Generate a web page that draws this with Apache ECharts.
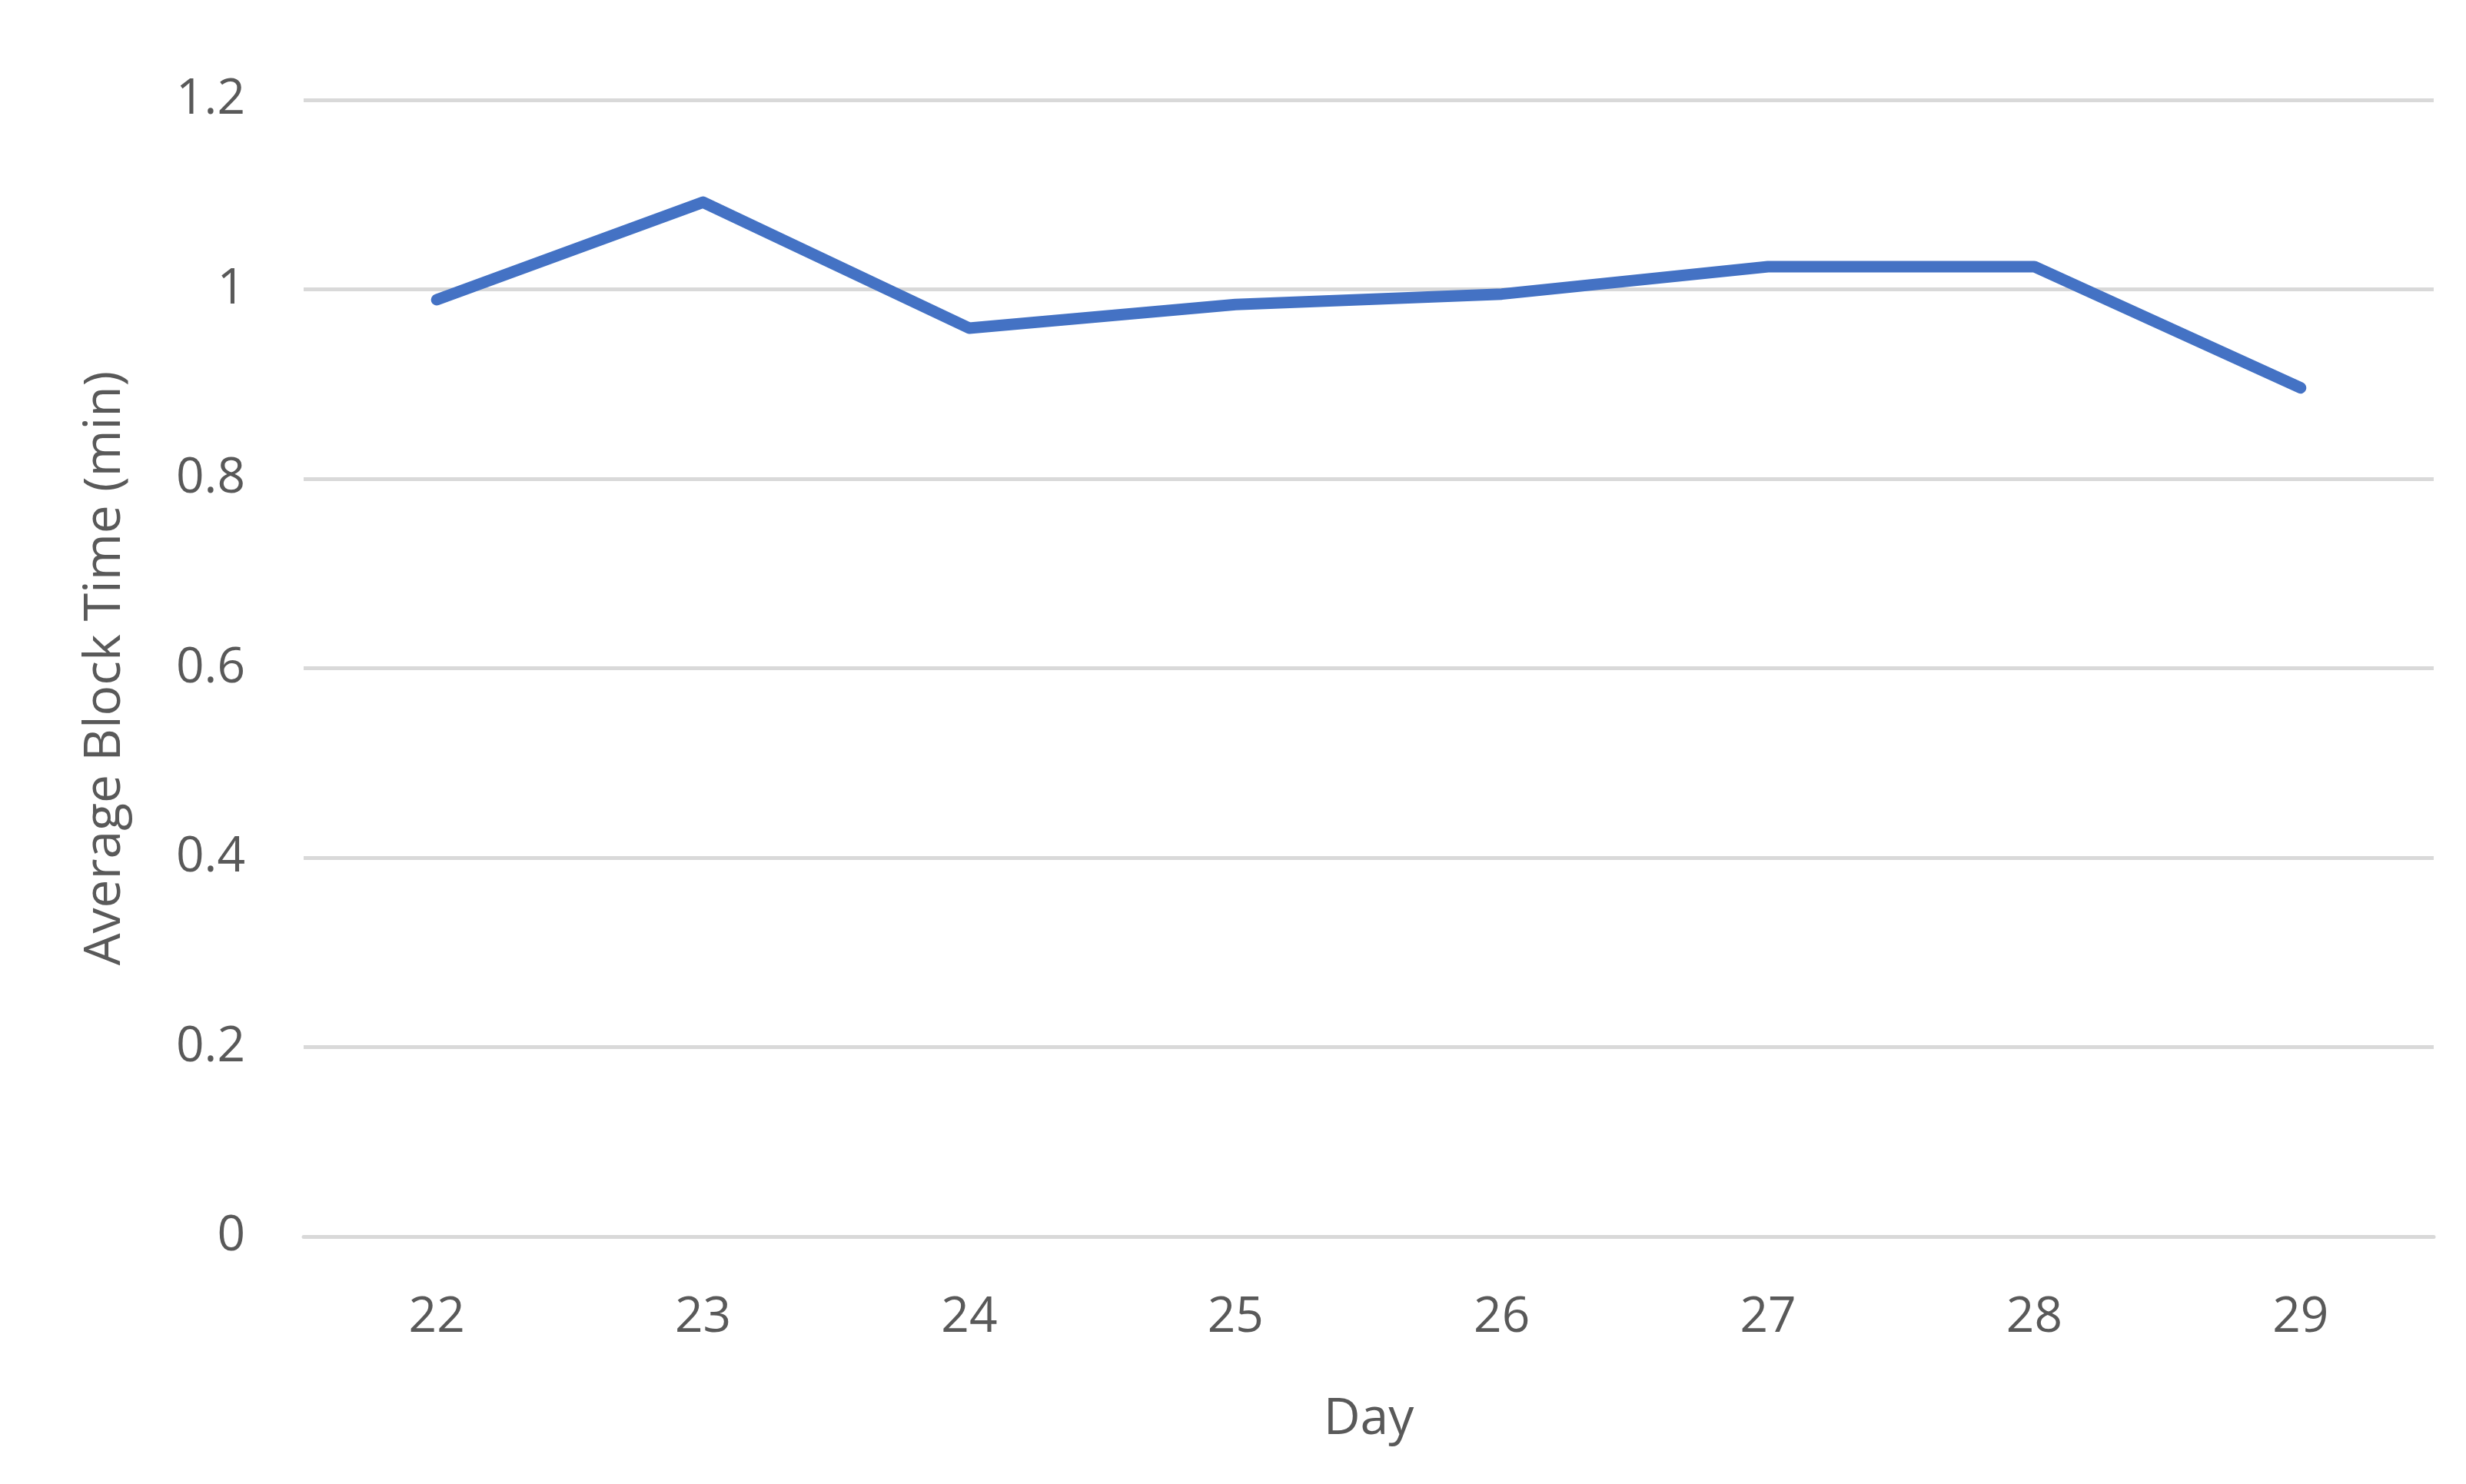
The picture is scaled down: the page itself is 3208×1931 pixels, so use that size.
<!DOCTYPE html>
<html>
<head>
<meta charset="utf-8" />
<script src="https://cdn.jsdelivr.net/npm/echarts@6/dist/echarts.min.js"></script>
<style>
  html, body { margin: 0; padding: 0; background: #fff; }
  #chart { width: 3208px; height: 1931px; }
</style>
</head>
<body>
<div id="chart"></div>
<script>
var days = ['22', '23', '24', '25', '26', '27', '28', '29'];
var blockTime = [0.989, 1.092, 0.959, 0.984, 0.995, 1.024, 1.024, 0.896];

var chart = echarts.init(document.getElementById('chart'));
chart.setOption({
    animation: false,
    grid: { left: 395, right: 42, top: 130, bottom: 322 },
    xAxis: {
        type: 'category',
        data: days,
        boundaryGap: true,
        name: 'Day',
        nameLocation: 'middle',
        nameGap: 205,
        nameTextStyle: { fontSize: 66, color: '#595959', fontFamily: 'Open Sans' },
        axisLine: { show: true, lineStyle: { color: '#d9d9d9', width: 5 } },
        axisTick: { show: false },
        axisLabel: { fontSize: 64, color: '#595959', margin: 74, fontFamily: 'Open Sans' }
    },
    yAxis: {
        type: 'value',
        min: 0,
        max: 1.2,
        interval: 0.2,
        name: 'Average Block Time (min)',
        nameLocation: 'middle',
        nameGap: 225,
        nameTextStyle: { fontSize: 66, color: '#595959', fontFamily: 'Open Sans' },
        axisLine: { show: false },
        axisTick: { show: false },
        axisLabel: {
            fontSize: 64, color: '#595959', margin: 76, fontFamily: 'Open Sans',
            formatter: function (v) { return String(Math.round(v * 10) / 10); }
        },
        splitLine: { lineStyle: { color: '#d9d9d9', width: 5 } }
    },
    series: [{
        type: 'line',
        data: blockTime,
        symbol: 'none',
        lineStyle: { color: '#4472C4', width: 15, cap: 'round', join: 'round' }
    }]
});
</script>
</body>
</html>
